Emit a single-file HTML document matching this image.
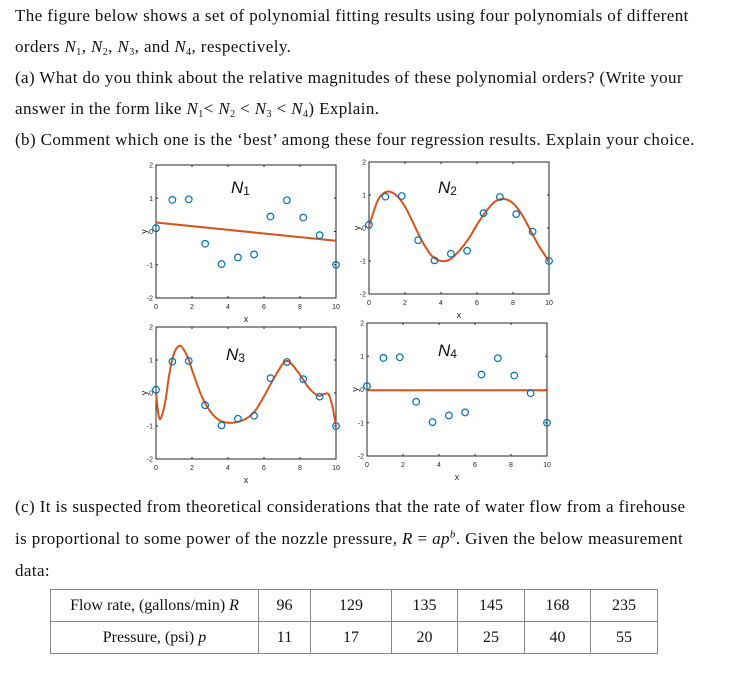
<!DOCTYPE html>
<html><head><meta charset="utf-8">
<style>
body{margin:0;background:#fff;width:734px;height:682px;overflow:hidden;position:relative;font-family:"Liberation Serif",serif;color:#111}
.t{position:absolute;left:15px;font-size:17px;letter-spacing:0.4px;white-space:nowrap;line-height:20px}
sub{font-size:10px;vertical-align:-3px;line-height:0}
sup{line-height:0}
table{position:absolute;left:50px;top:589px;border-collapse:collapse;font-size:16px}
td{border:1px solid #888;text-align:center;height:31px;padding:0}
</style></head><body>
<div class="t" style="top:6px">The figure below shows a set of polynomial fitting results using four polynomials of different</div>
<div class="t" style="top:37px">orders <i>N</i><sub>1</sub>, <i>N</i><sub>2</sub>, <i>N</i><sub>3</sub>, and <i>N</i><sub>4</sub>, respectively.</div>
<div class="t" style="top:68px">(a) What do you think about the relative magnitudes of these polynomial orders? (Write your</div>
<div class="t" style="top:99px">answer in the form like <i>N</i><sub>1</sub>&lt; <i>N</i><sub>2</sub> &lt; <i>N</i><sub>3</sub> &lt; <i>N</i><sub>4</sub>) Explain.</div>
<div class="t" style="top:130px">(b) Comment which one is the ‘best’ among these four regression results. Explain your choice.</div>
<svg id="charts" width="734" height="682" style="position:absolute;left:0;top:0"></svg>
<div class="t" style="top:497px">(c) It is suspected from theoretical considerations that the rate of water flow from a firehouse</div>
<div class="t" style="top:529px">is proportional to some power of the nozzle pressure, <i>R</i> = <i>ap</i><sup style="font-size:11px"><i>b</i></sup>. Given the below measurement</div>
<div class="t" style="top:561px">data:</div>
<table>
<tr><td style="width:207px">Flow rate, (gallons/min) <i>R</i></td><td style="width:51px">96</td><td style="width:80px">129</td><td style="width:65px">135</td><td style="width:66px">145</td><td style="width:65px">168</td><td style="width:66px">235</td></tr>
<tr><td>Pressure, (psi) <i>p</i></td><td>11</td><td>17</td><td>20</td><td>25</td><td>40</td><td>55</td></tr>
</table>
<script>
const dataX=[0,0.91,1.82,2.73,3.64,4.55,5.45,6.36,7.27,8.18,9.09,10];
const dataY=[0.1,0.95,0.97,-0.37,-0.98,-0.78,-0.69,0.45,0.94,0.42,-0.11,-1.0];
const n1X=[0,10];
const n1Y=[0.27,-0.28];
const n2X=[0,0.5,1,1.5,2,2.5,3,3.5,4,4.5,5,5.5,6,6.5,7,7.5,8,8.5,9,9.5,10];
const n2Y=[0.05,0.85,1.1,1.0,0.65,0.1,-0.45,-0.85,-1.0,-0.95,-0.7,-0.35,0.1,0.5,0.8,0.88,0.75,0.4,-0.1,-0.6,-1.0];
const n3X=[0,0.12,0.25,0.5,0.75,1,1.35,1.75,2,2.5,3,3.5,4,4.5,5,5.5,6,6.5,7,7.25,7.5,8,8.5,9,9.4,9.6,9.8,10];
const n3Y=[0,-0.6,-0.78,-0.3,0.6,1.2,1.43,1.1,0.7,-0.05,-0.55,-0.82,-0.9,-0.88,-0.78,-0.55,-0.1,0.4,0.85,0.97,0.9,0.55,0.15,-0.08,-0.02,-0.05,-0.4,-1.0];
const n4X=[0,10];
const n4Y=[-0.02,-0.02];
const xTicks=[0,2,4,6,8,10];
const yTicks=[-2,-1,0,1,2];
const panels=[
 {name:'n1',L:156,R:336,T:165,B:298,cx:n1X,cy:n1Y,title:'1',tx:231,ty:193},
 {name:'n2',L:369,R:549,T:162,B:294,cx:n2X,cy:n2Y,title:'2',tx:438,ty:193},
 {name:'n3',L:156,R:336,T:327,B:459,cx:n3X,cy:n3Y,title:'3',tx:226,ty:360},
 {name:'n4',L:367,R:547,T:323,B:456,cx:n4X,cy:n4Y,title:'4',tx:438,ty:356}
];
const svg=document.getElementById('charts');
const NS='http://www.w3.org/2000/svg';
function mk(tag,attrs,parent){const e=document.createElementNS(NS,tag);for(const k in attrs)e.setAttribute(k,attrs[k]);(parent||svg).appendChild(e);return e;}
function smooth(pts){
 if(pts.length<3)return 'M'+pts.map(p=>p[0].toFixed(1)+' '+p[1].toFixed(1)).join('L');
 let d='M'+pts[0][0].toFixed(1)+' '+pts[0][1].toFixed(1);
 for(let i=0;i<pts.length-1;i++){
  const p0=pts[i-1]||pts[i],p1=pts[i],p2=pts[i+1],p3=pts[i+2]||p2;
  const c1=[p1[0]+(p2[0]-p0[0])/6,p1[1]+(p2[1]-p0[1])/6];
  const c2=[p2[0]-(p3[0]-p1[0])/6,p2[1]-(p3[1]-p1[1])/6];
  d+='C'+c1.map(v=>v.toFixed(1)).join(' ')+' '+c2.map(v=>v.toFixed(1)).join(' ')+' '+p2.map(v=>v.toFixed(1)).join(' ');
 }
 return d;
}
panels.forEach(p=>{
 const sx=v=>p.L+(v-0)/(10-0)*(p.R-p.L);
 const sy=v=>p.B-(v+2)/4*(p.B-p.T);
 const g=mk('g',{});
 
 
 const box=mk('rect',{x:p.L,y:p.T,width:p.R-p.L,height:p.B-p.T,fill:'none',stroke:'#262626','stroke-width':1},g);
 
 
 xTicks.forEach(t=>{
  const x=sx(t);
  mk('line',{x1:x,x2:x,y1:p.B,y2:p.B-2,stroke:'#262626'},g);
  mk('line',{x1:x,x2:x,y1:p.T,y2:p.T+2,stroke:'#262626'},g);
  const tl=mk('text',{x:x,y:p.B+11,'font-size':7,'text-anchor':'middle','font-family':'Liberation Sans, sans-serif',fill:'#262626'},g);
  tl.textContent=t;
  
  
 });
 yTicks.forEach(t=>{
  const y=sy(t);
  mk('line',{x1:p.L,x2:p.L+2,y1:y,y2:y,stroke:'#262626'},g);
  mk('line',{x1:p.R,x2:p.R-2,y1:y,y2:y,stroke:'#262626'},g);
  const tl=mk('text',{x:p.L-3,y:y+2.5,'font-size':7,'text-anchor':'end','font-family':'Liberation Sans, sans-serif',fill:'#262626'},g);
  tl.textContent=t;
  
  
 });
 const xl=mk('text',{x:(p.L+p.R)/2,y:p.B+24,'font-size':9,'text-anchor':'middle','font-family':'Liberation Sans, sans-serif',fill:'#262626'},g);
 xl.textContent='x';
 
 
 const yl=mk('text',{x:p.L-12,y:(p.T+p.B)/2+3,'font-size':9,'text-anchor':'middle','font-family':'Liberation Sans, sans-serif',fill:'#262626',transform:`rotate(-90 ${p.L-12} ${(p.T+p.B)/2})`},g);
 yl.textContent='y';
 
 
 const pts=p.cx.map((v,i)=>[sx(v),sy(p.cy[i])]);
 const c=mk('path',{d:smooth(pts),fill:'none',stroke:'#D95319','stroke-width':2,'stroke-linejoin':'round'},g);
 
 
 dataX.forEach((v,i)=>{
  const pt=mk('circle',{cx:sx(v),cy:sy(dataY[i]),r:3.3,fill:'none',stroke:'#0072BD','stroke-width':1.2},g);
  
  
 });
 const tt=mk('text',{x:p.tx,y:p.ty,'font-size':17,'font-style':'italic','font-family':'Liberation Sans, sans-serif',fill:'#111'},g);
 tt.innerHTML='N<tspan font-size="12" font-style="normal" dy="2">'+p.title+'</tspan>';
 
 
});
</script>
</body></html>
